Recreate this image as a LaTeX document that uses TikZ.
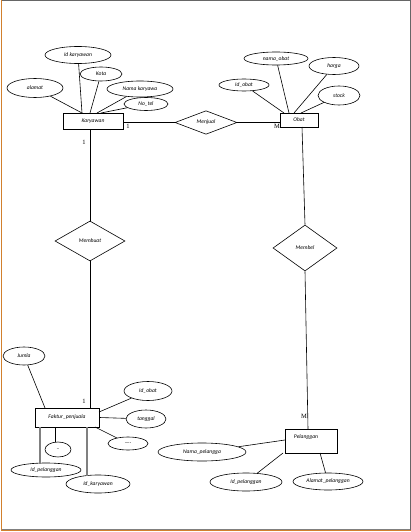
\documentclass[tikz,border=0pt]{standalone}
\usepackage{fontspec}
\setmainfont{Carlito}
\newfontfamily\numfont{Liberation Serif}
\usetikzlibrary{shapes.geometric}
\begin{document}
\begin{tikzpicture}[x=1pt,y=-1pt,
  ent/.style={draw,line width=0.8pt,inner sep=0pt,font=\fontsize{5.6}{6.5}\selectfont\itshape},
  attr/.style={draw,ellipse,line width=0.6pt,inner sep=0pt,font=\fontsize{5.6}{6.5}\selectfont\itshape},
  rel/.style={draw,diamond,line width=0.6pt,inner sep=0pt,font=\fontsize{5.6}{6.5}\selectfont\itshape},
  lnk/.style={line width=0.6pt},
  glnk/.style={line width=1.4pt,draw=gray},
  card/.style={font=\numfont\fontsize{6.5}{7}\selectfont,inner sep=0pt}]
\useasboundingbox (0,0) rectangle (411,532);
% frame
\draw[gray!80!black,line width=1pt] (1,0.5) -- (410,0.5) -- (410,529.5);
\draw[brown!70!orange,line width=1.2pt] (1.2,0.5) -- (1.2,530.8) -- (410.5,530.8);
\draw[gray,line width=0.6pt] (2,529) -- (410,529);

% Karyawan
\node[ent,minimum width=60pt,minimum height=16pt] (kar) at (93,121) {Karyawan};
\node[attr,minimum width=56pt,minimum height=19pt] (alamat) at (35,88) {alamat};
\node[attr,minimum width=66pt,minimum height=17pt] (idkar) at (78,55) {Id karyawan};
\node[attr,minimum width=42pt,minimum height=14pt] (kota) at (101,74) {Kota};
\node[attr,minimum width=66pt,minimum height=16pt] (nama) at (140,89) {Nama karyawa};
\node[attr,minimum width=44pt,minimum height=13pt] (notel) at (146,104) {No\_tel};
\coordinate (k1) at (82,113);
\coordinate (k2) at (90,113);
\coordinate (k3) at (97,113);
\coordinate (k4) at (101,113);
\draw[lnk] (alamat) -- (k1);
\draw[lnk] (idkar) -- (k1);
\draw[lnk] (kota) -- (k2);
\draw[lnk] (nama) -- (k3);
\draw[lnk] (notel) -- (k4);

% Obat
\node[ent,minimum width=38pt,minimum height=14pt] (obat) at (299,120) {Obat};
\node[attr,minimum width=64pt,minimum height=13pt] (namaobat) at (276,58.5) {nama\_obat};
\node[attr,minimum width=50pt,minimum height=17pt] (harga) at (334,66) {harga};
\node[attr,minimum width=50pt,minimum height=12pt] (idobat) at (244,85) {Id\_obat};
\node[attr,minimum width=42pt,minimum height=19pt] (stock) at (339,95.5) {stock};
\coordinate (o1) at (284,113);
\coordinate (o2) at (289,113);
\coordinate (o3) at (294,113);
\coordinate (o4) at (301,113);
\draw[lnk] (idobat) -- (o1);
\draw[lnk] (namaobat) -- (o2);
\draw[lnk] (harga) -- (o3);
\draw[lnk] (stock) -- (o4);

% Menjual
\node[rel,minimum width=62pt,minimum height=21pt] (menjual) at (206,122.5) {Menjual};
\draw[lnk] (kar.east |- menjual) -- (menjual.west);
\draw[lnk] (menjual.east) -- (obat.west |- menjual);
\node[card] at (128,126) {1};
\node[card] at (277,126) {M};

% Membuat
\node[rel,minimum width=70pt,minimum height=40pt] (membuat) at (90,241) {Membuat};
\draw[lnk] (90,129) -- (membuat.north);
\node[card] at (84,142) {1};

% Faktur
\node[ent,minimum width=64pt,minimum height=19pt] (faktur) at (67,417.5) {Faktur\_penjuala};
\draw[lnk] (membuat.south) -- (faktur.north -| membuat.south);
\node[card] at (84,401) {1};
\node[attr,minimum width=42pt,minimum height=18pt] (jumla) at (24,356) {Jumla};
\node[attr,minimum width=48pt,minimum height=19pt] (fidobat) at (148,391) {Id\_obat};
\node[attr,minimum width=40pt,minimum height=18pt] (tanggal) at (146,419) {tanggal};
\node[attr,minimum width=40pt,minimum height=13pt] (dash4) at (128,443.5) {----};
\node[attr,minimum width=26pt,minimum height=15pt] (dash2) at (58,449.5) {--};
\node[attr,minimum width=70pt,minimum height=14pt] (fidpel) at (46,470) {Id\_pelanggan};
\node[attr,minimum width=64pt,minimum height=18pt] (fidkar) at (98,484) {Id\_karyawan};
\coordinate (f1) at (45,408);
\coordinate (f2) at (99,412);
\coordinate (f3) at (95,427);
\draw[lnk] (jumla) -- (f1);
\draw[lnk] (f2) -- (fidobat);
\draw[lnk] (faktur.east) -- (tanggal);
\draw[lnk] (f3) -- (dash4);
\draw[lnk] (55,427) -- (dash2.north -| 55,427);
\draw[glnk] (40,427) -- (40,464);
\draw[glnk] (87,427) -- (87,476);

% Membeli
\node[rel,minimum width=64pt,minimum height=46pt] (membeli) at (305,248) {Membel};
\draw[lnk] (302,127) -- (membeli.north);

% Pelanggan
\node[ent,minimum width=52pt,minimum height=24pt] (pel) at (311,441) {};
\node[font=\fontsize{5.6}{6.5}\selectfont\itshape,inner sep=0pt] at (306,437) {Pelanggan};
\draw[lnk] (membeli.south) -- (308,429);
\node[card] at (304,416) {M};
\node[attr,minimum width=88pt,minimum height=18pt] (namapel) at (202,452) {Nama\_pelangga};
\node[attr,minimum width=72pt,minimum height=18pt] (idpel) at (246,482) {Id\_pelanggan};
\node[attr,minimum width=70pt,minimum height=17pt] (alpel) at (328,481.5) {Alamat\_pelanggan};
\coordinate (p1) at (285,440);
\coordinate (p2) at (283,453);
\coordinate (p3) at (320,453);
\draw[lnk] (namapel) -- (p1);
\draw[lnk] (idpel) -- (p2);
\draw[lnk] (alpel) -- (p3);
\end{tikzpicture}
\end{document}
